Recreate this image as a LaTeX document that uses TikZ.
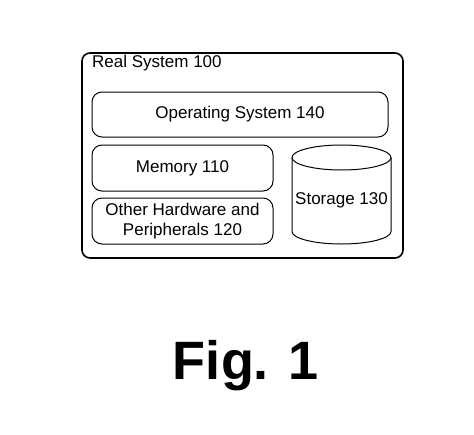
\documentclass[tikz,border=0pt]{standalone}
\usepackage{fontspec}
\setmainfont{Liberation Sans}
\begin{document}
\begin{tikzpicture}[x=1pt,y=-1pt,
  box/.style={draw,rounded corners=10pt,line width=1pt,font=\fontsize{17}{20}\selectfont,align=center,inner sep=0pt},
  lbl/.style={font=\fontsize{17}{20}\selectfont}]
\useasboundingbox (0,0) rectangle (474,434);
\node[draw,line width=1.6pt,rounded corners=8pt,minimum width=321pt,minimum height=205pt,inner sep=0pt] (real) at (242.5,155.5) {};
\node[lbl,anchor=west,inner sep=0pt] (reallbl) at (92,63) {Real System 100};
\node[box,minimum width=296pt,minimum height=45pt] (os) at (240,114.5) {Operating System 140};
\node[box,minimum width=181pt,minimum height=46pt] (mem) at (182.5,168) {Memory 110};
\node[box,minimum width=181pt,minimum height=46pt] (hw) at (182.5,221) {Other Hardware and\\Peripherals 120};
% storage cylinder
\draw[line width=1pt] (341.5,157.5) ellipse[x radius=49.5,y radius=12.5];
\draw[line width=1pt] (292,157.5) -- (292,231.5) arc[start angle=180,end angle=0,x radius=49.5,y radius=12.5] -- (391,157.5);
\node[lbl] (stolbl) at (341.5,200) {Storage 130};
\node[font=\fontsize{54}{56}\bfseries\selectfont] (fig) at (246,366) {Fig. 1};
\end{tikzpicture}
\end{document}
